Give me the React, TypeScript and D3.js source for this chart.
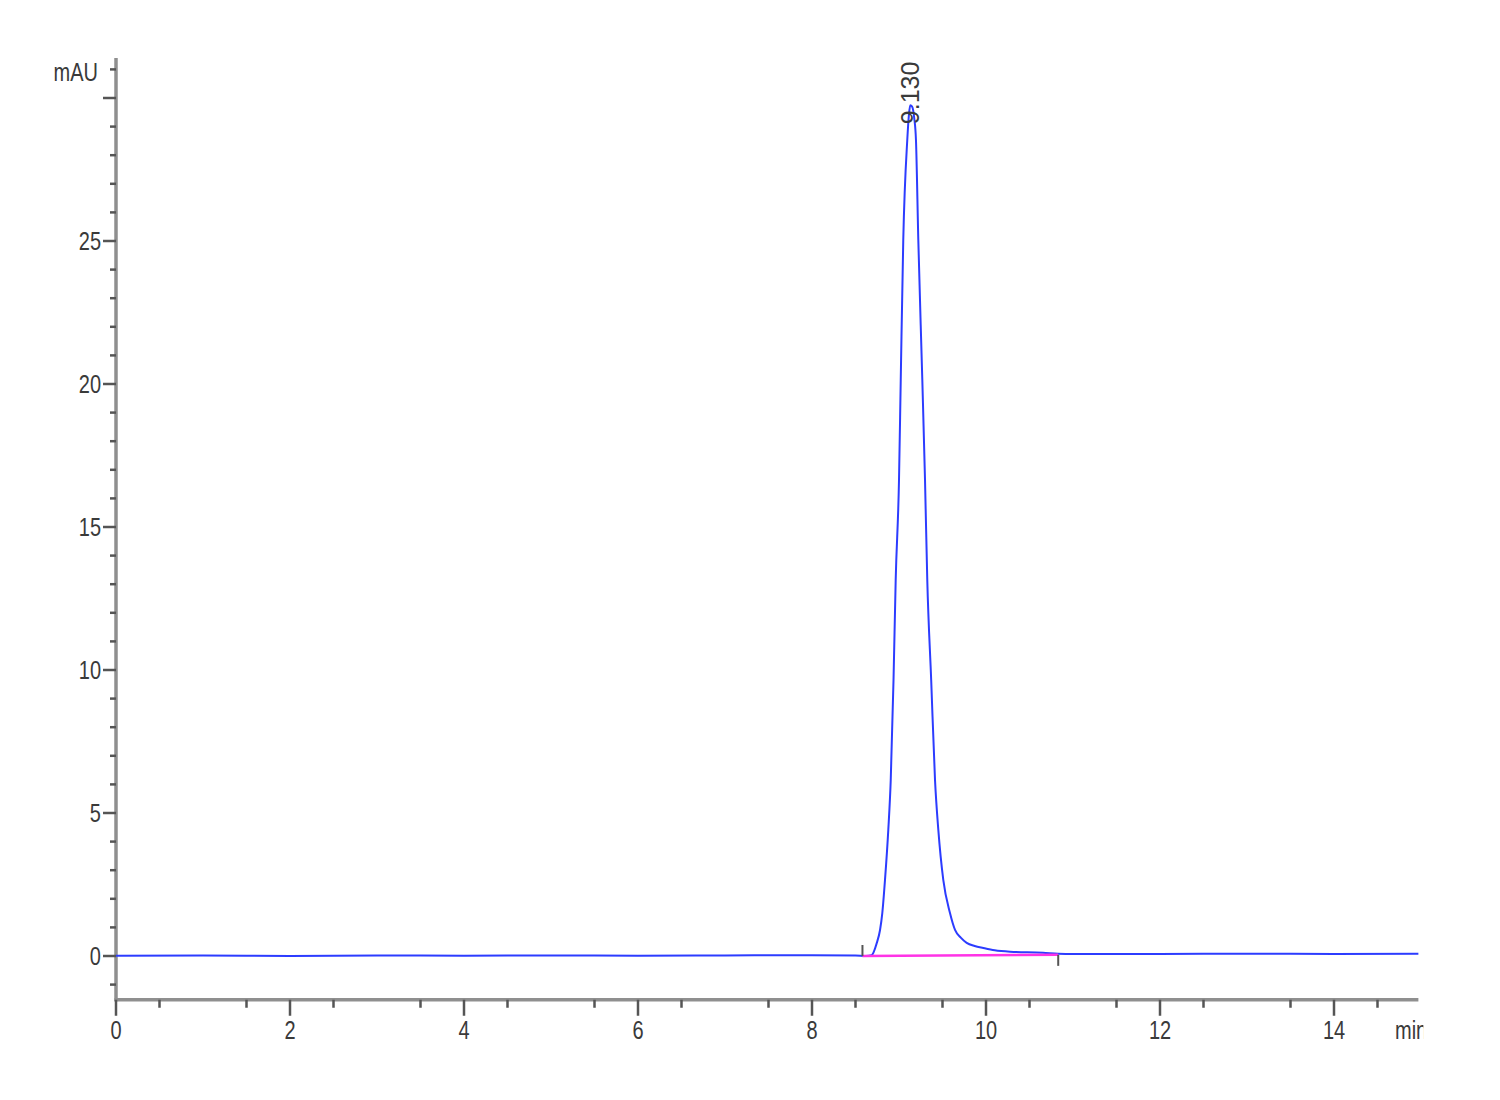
import * as d3 from 'd3'

// chromatogram trace (min, mAU)
const traceTimes = [0, 1, 2, 3, 4, 5, 6, 7, 8, 8.5, 8.62, 8.686, 8.744, 8.782, 8.808, 8.839, 8.877, 8.905, 8.937, 8.962, 9.0, 9.02, 9.049, 9.095, 9.115, 9.13, 9.15, 9.175, 9.195, 9.222, 9.268, 9.299, 9.325, 9.37, 9.414, 9.452, 9.509, 9.586, 9.644, 9.71, 9.778, 9.87, 9.969, 10.1, 10.276, 10.655, 10.83, 11, 12, 13, 14, 14.97]
const traceValues = [0.01, 0.02, 0.0, 0.02, 0.01, 0.02, 0.01, 0.02, 0.03, 0.02, 0.0, 0.03, 0.45, 0.91, 1.5, 2.66, 4.41, 6.15, 9.65, 13.15, 16.64, 20.14, 25.03, 28.53, 29.45, 29.75, 29.7, 29.3, 28.53, 25.03, 20.14, 16.64, 13.15, 9.65, 6.15, 4.41, 2.66, 1.5, 0.91, 0.64, 0.46, 0.35, 0.28, 0.2, 0.15, 0.115, 0.08, 0.07, 0.07, 0.08, 0.07, 0.08]

// integration baseline
const baseTimes = [8.58, 10.83]
const baseValues = [0.0, 0.04]

const peakTime = 9.13
const peakValue = 29.75
const peakLabel = '9.130'

const yMajorTicks = [0, 5, 10, 15, 20, 25, 30]
const yLabelTicks = [0, 5, 10, 15, 20, 25]
const xMajorTicks = [0, 2, 4, 6, 8, 10, 12, 14]

const W = 1500
const H = 1100
const font = '"Liberation Sans", Arial, sans-serif'
const squeeze = 0.8

export default function App() {
    const x = d3.scaleLinear().domain([0, 15]).range([116, 1421])
    const y = d3.scaleLinear().domain([0, 25]).range([956, 241])

    const xAxisY = y(-1.53)
    const yTop = y(31.4)
    const xEnd = x(14.97)

    const yMinor = d3.range(-1, 32, 1).filter(v => !yMajorTicks.includes(v))
    const xMinor = d3.range(0.5, 15, 1)

    const line = d3.line<number>()
        .x((d, i) => x(traceTimes[i]))
        .y(d => y(d))
        .curve(d3.curveMonotoneX)

    const baseLine = d3.line<number>()
        .x((d, i) => x(baseTimes[i]))
        .y(d => y(d))

    const axisColor = '#8f8f8f'
    const tickColor = '#555'
    const textColor = '#3a3a3a'

    const label = (key: string, tx: number, ty: number, anchor: string, txt: string | number) => (
        <text
            key={key}
            transform={`translate(${tx},${ty}) scale(${squeeze},1)`}
            textAnchor={anchor}
            fontFamily={font}
            fontSize={25}
            fill={textColor}
        >{txt}</text>
    )

    return (
        <svg width={W} height={H} style={{ position: 'absolute', left: 0, top: 0, background: '#fff' }}>
            <defs>
                <clipPath id="pageClip">
                    <rect x={0} y={0} width={xEnd + 5} height={H} />
                </clipPath>
            </defs>

            {/* y axis */}
            <line x1={x(0)} x2={x(0)} y1={yTop} y2={xAxisY + 1.5} stroke={axisColor} strokeWidth={3.5} />
            {yMajorTicks.map(v => (
                <line key={'ym' + v} x1={x(0) - 13} x2={x(0)} y1={y(v)} y2={y(v)} stroke={tickColor} strokeWidth={2.5} />
            ))}
            {yMinor.map(v => (
                <line key={'yn' + v} x1={x(0) - 6} x2={x(0)} y1={y(v)} y2={y(v)} stroke={tickColor} strokeWidth={2.5} />
            ))}
            {yLabelTicks.map(v => label('yl' + v, 101, y(v) + 9, 'end', v))}
            {label('mau', 98, 81, 'end', 'mAU')}

            {/* x axis */}
            <line x1={x(0) - 1.5} x2={xEnd} y1={xAxisY} y2={xAxisY} stroke={axisColor} strokeWidth={3.5} />
            {xMajorTicks.map(v => (
                <line key={'xm' + v} x1={x(v)} x2={x(v)} y1={xAxisY} y2={xAxisY + 16} stroke={tickColor} strokeWidth={2.5} />
            ))}
            {xMinor.map(v => (
                <line key={'xn' + v} x1={x(v)} x2={x(v)} y1={xAxisY} y2={xAxisY + 8} stroke={tickColor} strokeWidth={2.5} />
            ))}
            {xMajorTicks.map(v => label('xl' + v, x(v), 1039, 'middle', v))}
            <g clipPath="url(#pageClip)">
                {label('unit', 1395, 1039, 'start', 'min')}
            </g>

            {/* trace */}
            <path d={line(traceValues) ?? ''} fill="none" stroke="#2c3cff" strokeWidth={2} />

            {/* integration baseline and markers */}
            <path d={baseLine(baseValues) ?? ''} fill="none" stroke="#ff33e6" strokeWidth={2.5} />
            <line x1={x(baseTimes[0])} x2={x(baseTimes[0])} y1={y(baseValues[0]) - 11} y2={y(baseValues[0])} stroke="#555" strokeWidth={2} />
            <line x1={x(baseTimes[1])} x2={x(baseTimes[1])} y1={y(baseValues[1])} y2={y(baseValues[1]) + 11} stroke="#555" strokeWidth={2} />

            {/* peak label */}
            <text
                transform={`translate(${x(peakTime) + 9},${y(peakValue) + 19}) rotate(-90)`}
                fontFamily={font}
                fontSize={25}
                fill={textColor}
            >{peakLabel}</text>
        </svg>
    )
}
